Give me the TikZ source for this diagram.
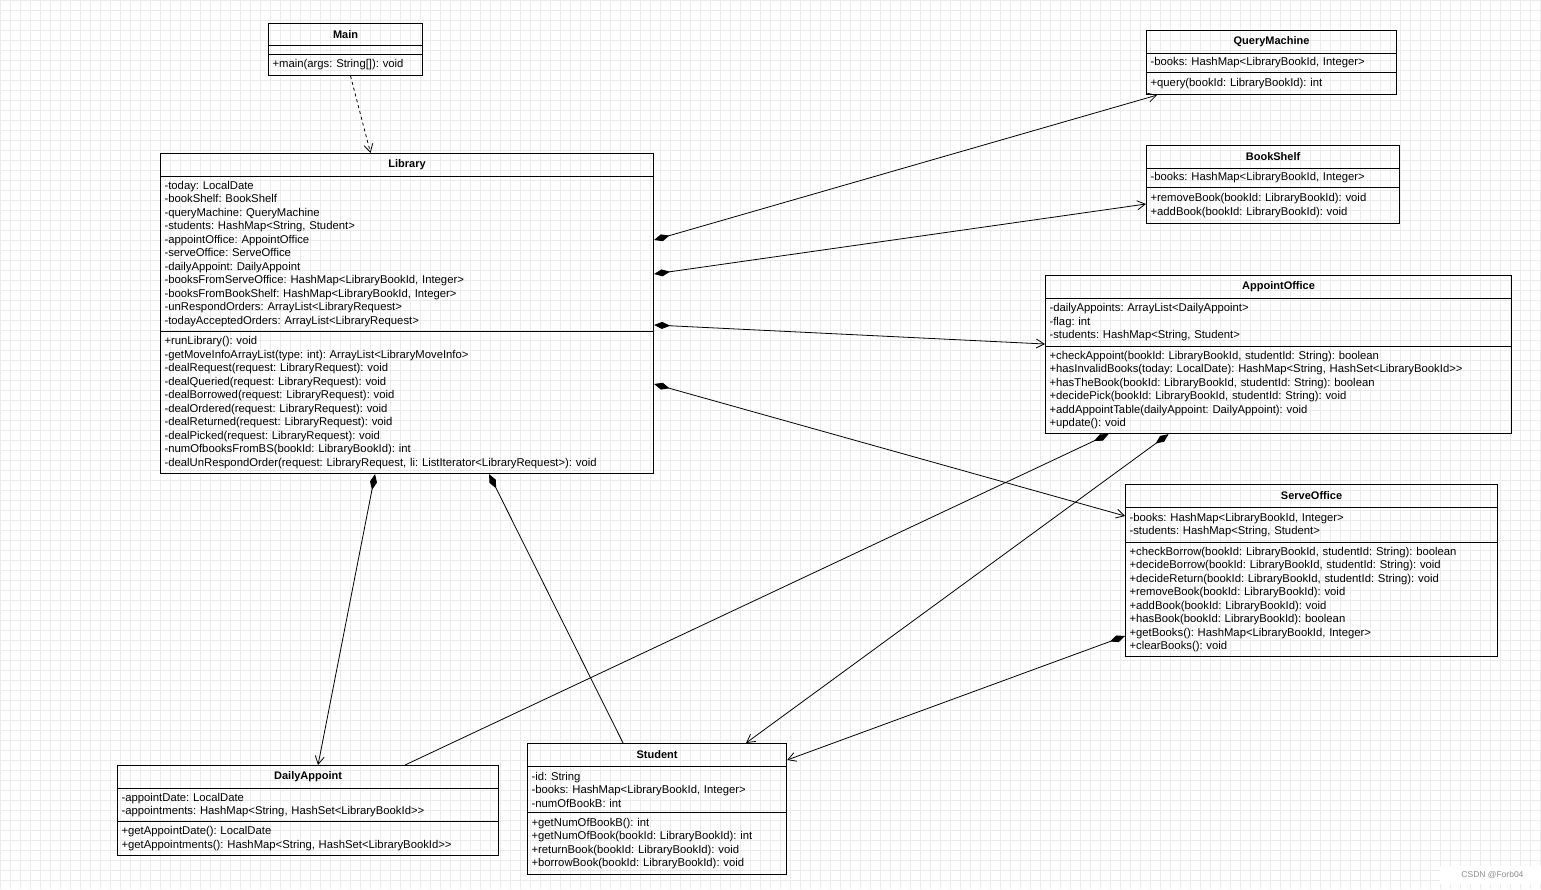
\documentclass[tikz,border=0pt]{standalone}
\usepackage{fontspec}
\setmainfont{Liberation Sans}[Ligatures=ResetAll]
\frenchspacing
\usetikzlibrary{arrows.meta}
\tikzset{
  umlTitle/.style={draw,line width=1.1pt,anchor=north west,font=\fontsize{11}{12}\selectfont\bfseries,inner sep=0pt},
  umlPart/.style={draw,line width=1.1pt,anchor=north west,align=left,inner xsep=4pt,inner ysep=0pt,font=\fontsize{11.3}{13.5}\selectfont},
  compose/.style={{Diamond[length=16pt,width=7pt]}-, line width=0.8pt},
  composeTo/.style={{Diamond[length=16pt,width=7pt]}-{Straight Barb[length=8pt,width=9pt]}, line width=0.8pt},
  dependency/.style={-{Straight Barb[length=8pt,width=9pt]}, dashed, line width=0.8pt}
}
\begin{document}
\begin{tikzpicture}[x=1pt,y=-1pt]
	\useasboundingbox (0,0) rectangle (1541,889);
	\draw[black!8, line width=0.5pt] (0,0) grid[step=10pt] (1541,889);
	\fill[white] (1440,866) rectangle (1541,884);
	\node[anchor=east,text=black!45,font=\fontsize{8.5}{9}\selectfont] (mark) at (1527,875) {CSDN @Forb04};
	
	% Main
	\node[umlTitle, minimum width=154pt, minimum height=22pt] (main) at (268,23) {Main};
	\node[umlPart, minimum width=154pt, minimum height=9pt] (main-a) at (268,45) {};
	\node[umlPart, text width=146pt, minimum height=21pt] (main-m) at (268,54) {+main(args: String[]): void};
	
	% Library
	\node[umlTitle, minimum width=493pt, minimum height=23pt] (lib) at (160,153) {Library};
	\node[umlPart, text width=485pt, minimum height=155pt] (lib-a) at (160,176) {-today: LocalDate\\-bookShelf: BookShelf\\-queryMachine: QueryMachine\\-students: HashMap<String, Student>\\-appointOffice: AppointOffice\\-serveOffice: ServeOffice\\-dailyAppoint: DailyAppoint\\-booksFromServeOffice: HashMap<LibraryBookId, Integer>\\-booksFromBookShelf: HashMap<LibraryBookId, Integer>\\-unRespondOrders: ArrayList<LibraryRequest>\\-todayAcceptedOrders: ArrayList<LibraryRequest>};
	\node[umlPart, text width=485pt, minimum height=142pt] (lib-m) at (160,331) {+runLibrary(): void\\-getMoveInfoArrayList(type: int): ArrayList<LibraryMoveInfo>\\-dealRequest(request: LibraryRequest): void\\-dealQueried(request: LibraryRequest): void\\-dealBorrowed(request: LibraryRequest): void\\-dealOrdered(request: LibraryRequest): void\\-dealReturned(request: LibraryRequest): void\\-dealPicked(request: LibraryRequest): void\\-numOfbooksFromBS(bookId: LibraryBookId): int\\-dealUnRespondOrder(request: LibraryRequest, li: ListIterator<LibraryRequest>): void};
	
	% QueryMachine
	\node[umlTitle, minimum width=250pt, minimum height=23pt] (qm) at (1146,30) {QueryMachine};
	\node[umlPart, text width=242pt, minimum height=19pt] (qm-a) at (1146,53) {-books: HashMap<LibraryBookId, Integer>};
	\node[umlPart, text width=242pt, minimum height=22pt] (qm-m) at (1146,72) {+query(bookId: LibraryBookId): int};
	
	% BookShelf
	\node[umlTitle, minimum width=253pt, minimum height=23pt] (bs) at (1146,145) {BookShelf};
	\node[umlPart, text width=245pt, minimum height=19pt] (bs-a) at (1146,168) {-books: HashMap<LibraryBookId, Integer>};
	\node[umlPart, text width=245pt, minimum height=36pt] (bs-m) at (1146,187) {+removeBook(bookId: LibraryBookId): void\\+addBook(bookId: LibraryBookId): void};
	
	% AppointOffice
	\node[umlTitle, minimum width=466pt, minimum height=23pt] (ao) at (1045,275) {AppointOffice};
	\node[umlPart, text width=458pt, minimum height=48pt] (ao-a) at (1045,298) {-dailyAppoints: ArrayList<DailyAppoint>\\-flag: int\\-students: HashMap<String, Student>};
	\node[umlPart, text width=458pt, minimum height=87pt] (ao-m) at (1045,346) {+checkAppoint(bookId: LibraryBookId, studentId: String): boolean\\+hasInvalidBooks(today: LocalDate): HashMap<String, HashSet<LibraryBookId>{}>\\+hasTheBook(bookId: LibraryBookId, studentId: String): boolean\\+decidePick(bookId: LibraryBookId, studentId: String): void\\+addAppointTable(dailyAppoint: DailyAppoint): void\\+update(): void};
	
	% ServeOffice
	\node[umlTitle, minimum width=372pt, minimum height=23pt] (so) at (1125,484) {ServeOffice};
	\node[umlPart, text width=364pt, minimum height=35pt] (so-a) at (1125,507) {-books: HashMap<LibraryBookId, Integer>\\-students: HashMap<String, Student>};
	\node[umlPart, text width=364pt, minimum height=114pt] (so-m) at (1125,542) {+checkBorrow(bookId: LibraryBookId, studentId: String): boolean\\+decideBorrow(bookId: LibraryBookId, studentId: String): void\\+decideReturn(bookId: LibraryBookId, studentId: String): void\\+removeBook(bookId: LibraryBookId): void\\+addBook(bookId: LibraryBookId): void\\+hasBook(bookId: LibraryBookId): boolean\\+getBooks(): HashMap<LibraryBookId, Integer>\\+clearBooks(): void};
	
	% DailyAppoint
	\node[umlTitle, minimum width=381pt, minimum height=23pt] (da) at (117,765) {DailyAppoint};
	\node[umlPart, text width=373pt, minimum height=33pt] (da-a) at (117,788) {-appointDate: LocalDate\\-appointments: HashMap<String, HashSet<LibraryBookId>{}>};
	\node[umlPart, text width=373pt, minimum height=34pt] (da-m) at (117,821) {+getAppointDate(): LocalDate\\+getAppointments(): HashMap<String, HashSet<LibraryBookId>{}>};
	
	% Student
	\node[umlTitle, minimum width=259pt, minimum height=23pt] (st) at (527,743) {Student};
	\node[umlPart, text width=251pt, minimum height=46pt] (st-a) at (527,766) {-id: String\\-books: HashMap<LibraryBookId, Integer>\\-numOfBookB: int};
	\node[umlPart, text width=251pt, minimum height=62pt] (st-m) at (527,812) {+getNumOfBookB(): int\\+getNumOfBook(bookId: LibraryBookId): int\\+returnBook(bookId: LibraryBookId): void\\+borrowBook(bookId: LibraryBookId): void};
	
	% relations
	\draw[dependency] ([xshift=5pt]main-m.south) -- ([xshift=-36.5pt]lib.north);
	\draw[composeTo] ([yshift=-64pt]lib-a.north east) -- ([xshift=11pt]qm-m.south west);
	\draw[composeTo] ([yshift=-98pt]lib-a.north east) -- ([yshift=-17pt]bs-m.north west);
	\draw[composeTo] ([yshift=6pt]lib-m.north east) -- ([yshift=-46pt]ao-a.north west);
	\draw[composeTo] ([yshift=-53pt]lib-m.north east) -- ([yshift=-9pt]so-a.north west);
	\draw[composeTo] ([xshift=-32pt]lib-m.south) -- ([xshift=10pt]da.north);
	\draw[compose] ([xshift=82pt]lib-m.south) -- ([xshift=-34pt]st.north);
	\draw[compose] ([xshift=-170pt]ao-m.south) -- ([xshift=97pt]da.north);
	\draw[composeTo] ([xshift=-110pt]ao-m.south) -- ([xshift=89pt]st.north);
	\draw[composeTo] ([yshift=-94pt]so-m.north west) -- ([yshift=-17pt]st.north east);
\end{tikzpicture}
\end{document}
